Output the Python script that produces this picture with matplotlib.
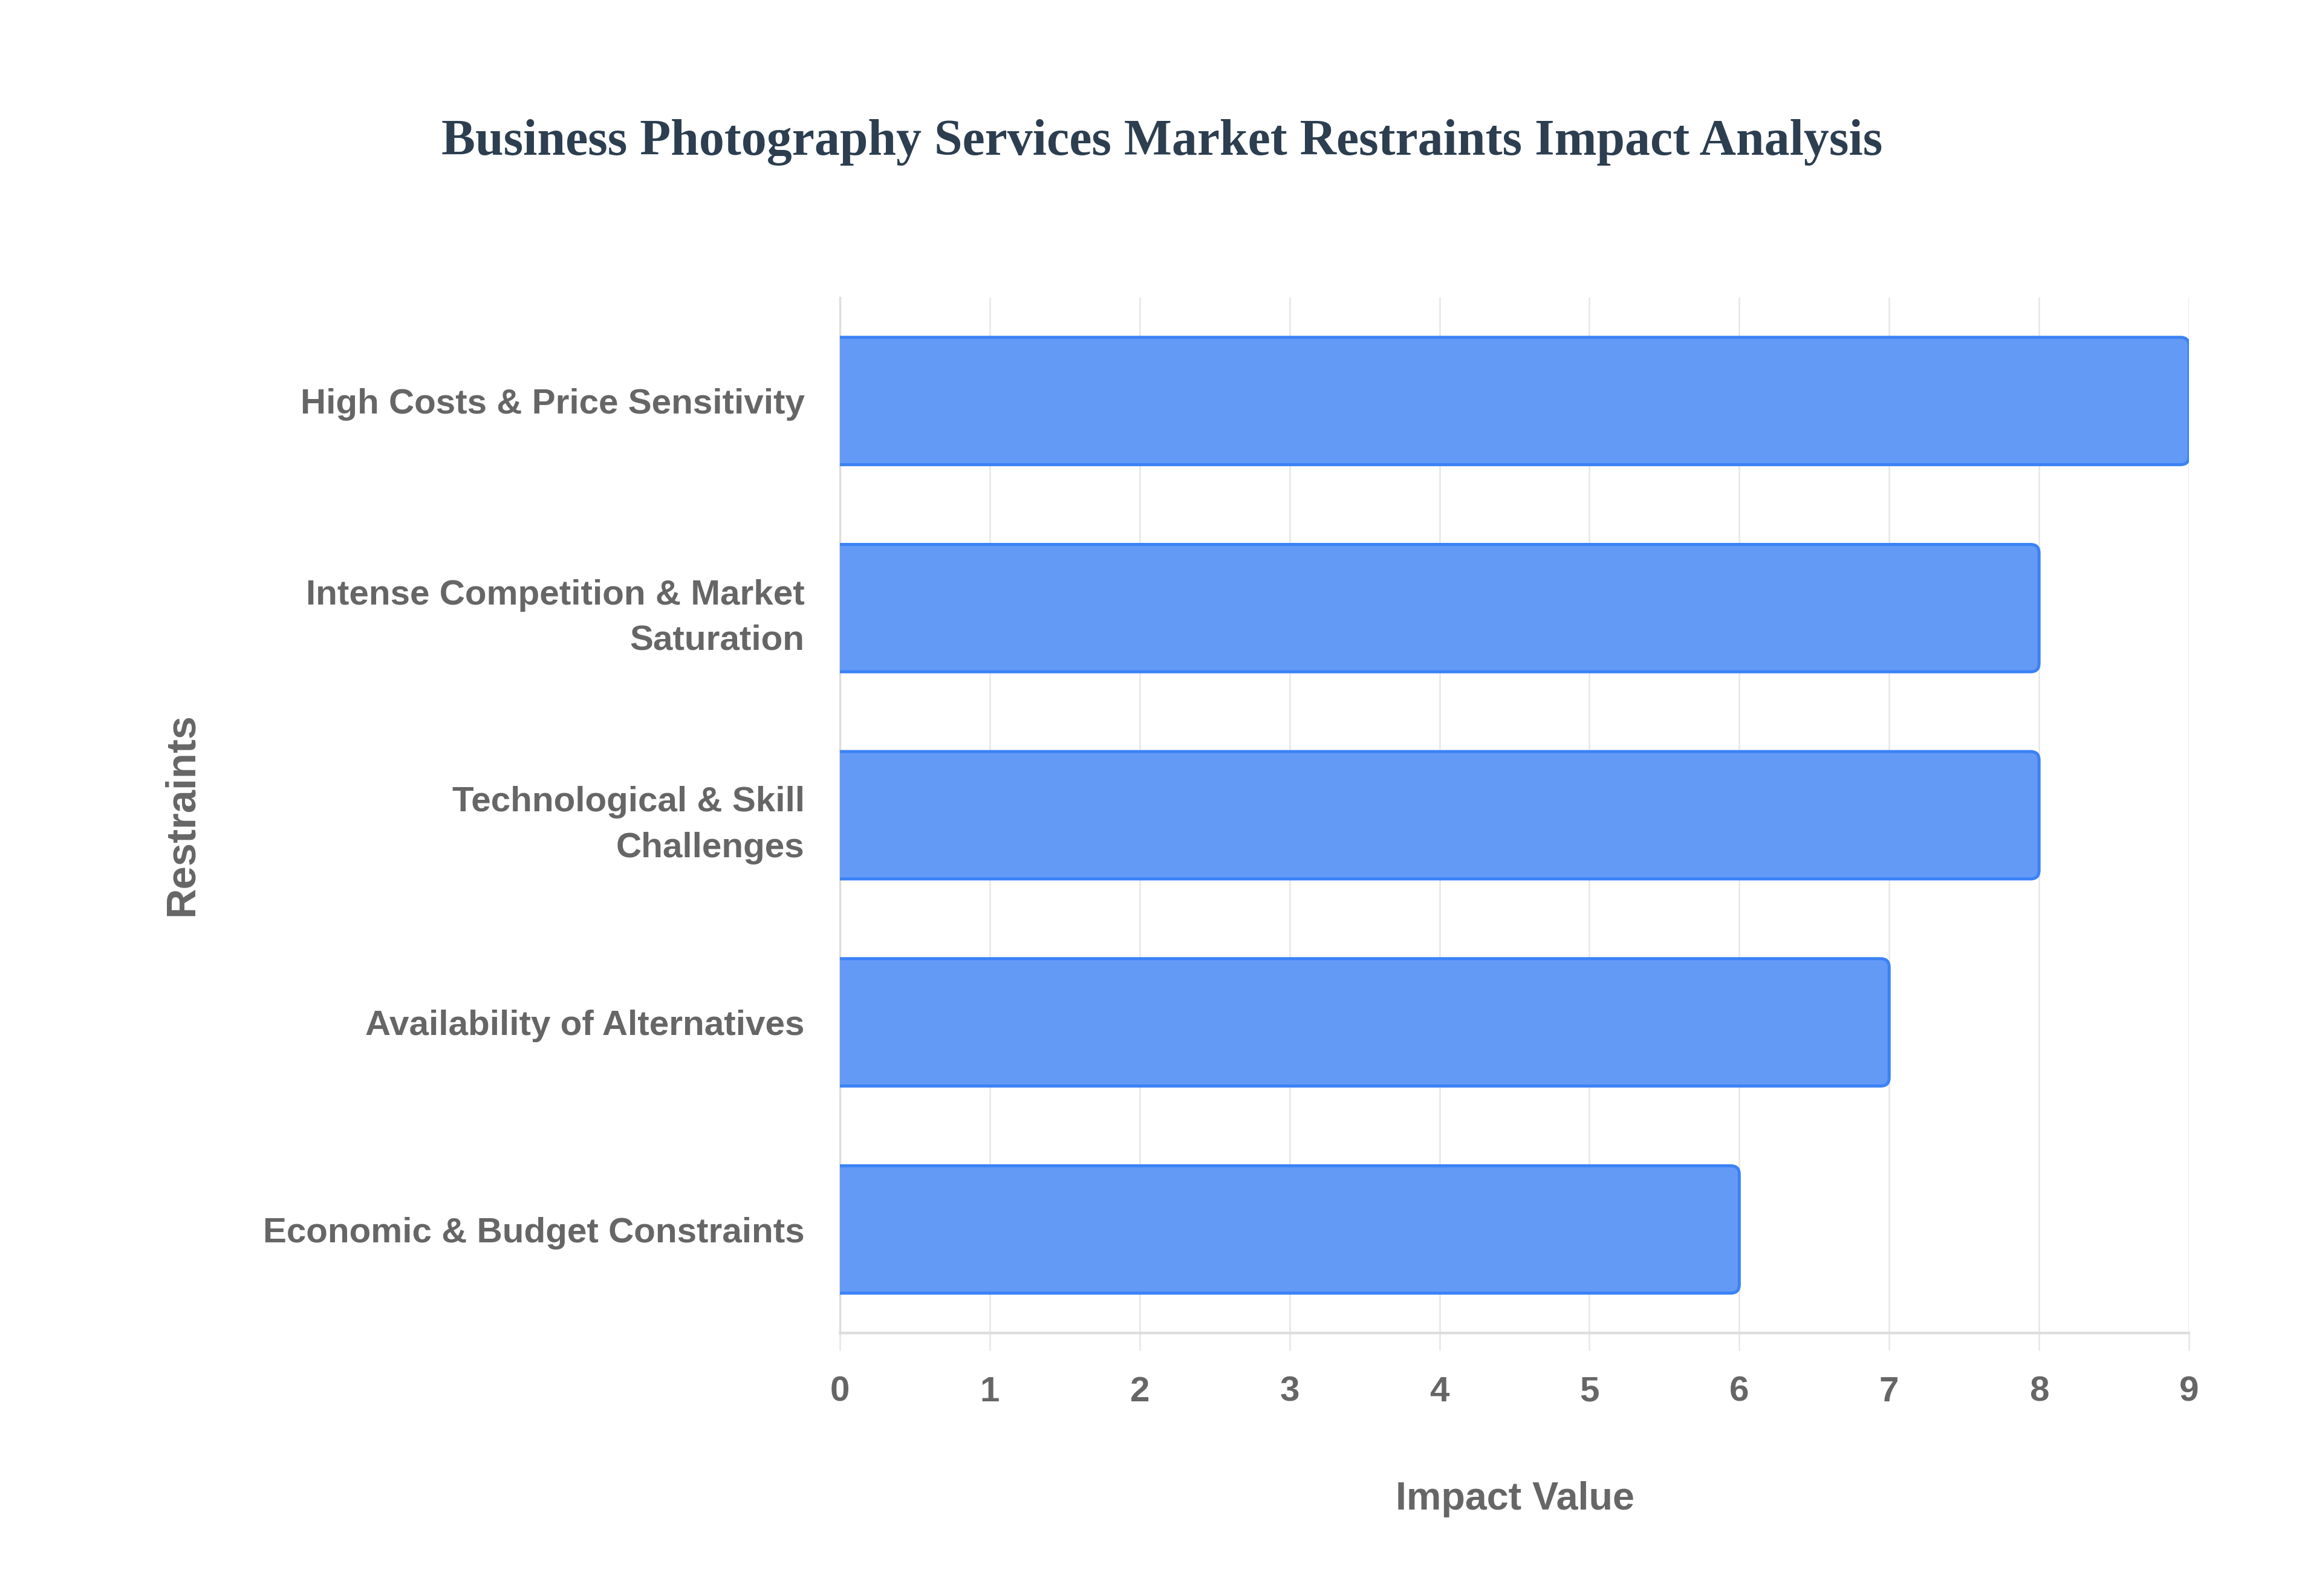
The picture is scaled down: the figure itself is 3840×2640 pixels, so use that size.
import matplotlib
matplotlib.use("Agg")
import matplotlib.pyplot as plt
from matplotlib.patches import FancyBboxPatch

# ---- data ----
categories = [
    "High Costs & Price Sensitivity",
    "Intense Competition & Market\nSaturation",
    "Technological & Skill\nChallenges",
    "Availability of Alternatives",
    "Economic & Budget Constraints",
]
impact_values = [9, 8, 8, 7, 6]
x_ticks = [0, 1, 2, 3, 4, 5, 6, 7, 8, 9]

title = "Business Photography Services Market Restraints Impact Analysis"
x_title = "Impact Value"
y_title = "Restraints"

# ---- style ----
SANS = ["Liberation Sans", "DejaVu Sans"]
SERIF = ["Liberation Serif", "DejaVu Serif"]
TXT = "#666666"
GRID = "#e6e6e6"
FILL = "#639AF6"
EDGE = "#3B82F6"

W, H, DPI = 12.8, 8.8, 300
fig = plt.figure(figsize=(W, H), dpi=DPI, facecolor="white")
left, right, bottom, top = 1389 / 3840, 3620 / 3840, 1 - 2205 / 2640, 1 - 492 / 2640
ax = fig.add_axes([left, bottom, right - left, top - bottom])

ypos = list(range(len(categories)))
ax.set_xlim(0, 9)
ax.set_ylim(len(categories) - 0.5, -0.5)

bars = ax.barh(ypos, impact_values, height=0.615, color=FILL)

# rounded right ends (Chart.js style) built from the bar geometry
ax_w_px = (right - left) * W * DPI
ax_h_px = (top - bottom) * H * DPI
x_per_px = 9 / ax_w_px
y_per_px = len(categories) / ax_h_px
aspect = y_per_px / x_per_px
r_px = 14
r = r_px * x_per_px
for b in bars:
    x0, y0 = b.get_x(), b.get_y()
    w, h = b.get_width(), b.get_height()
    b.set_visible(False)
    p = FancyBboxPatch((x0 - 3 * r, y0), w + 3 * r, h,
                       boxstyle=f"round,pad=0,rounding_size={r}",
                       mutation_aspect=aspect,
                       facecolor=FILL, edgecolor=EDGE, linewidth=1.2,
                       zorder=3)
    ax.add_patch(p)

# grid / spines
ax.set_xticks(x_ticks)
ax.grid(axis="x", color=GRID, linewidth=0.6, zorder=0)
ax.grid(axis="y", visible=False)
ax.set_axisbelow(True)
for s in ["top", "right"]:
    ax.spines[s].set_visible(False)
ax.spines["left"].set_color("#dddddd")
ax.spines["left"].set_linewidth(0.8)
ax.spines["bottom"].set_color("#dddddd")
ax.spines["bottom"].set_linewidth(1.0)

ax.tick_params(axis="x", length=7, width=0.6, color=GRID, pad=10,
               labelsize=14, labelcolor=TXT)
ax.tick_params(axis="y", length=0, pad=14, labelsize=14, labelcolor=TXT)
ax.set_yticks(ypos)
ax.set_yticklabels(categories, linespacing=1.5)
for lab in ax.get_xticklabels() + ax.get_yticklabels():
    lab.set_family(SANS)
    lab.set_fontweight("bold")

fig.text(2505 / 3840, 1 - 2480 / 2640, x_title, ha="center", va="center",
         fontsize=15.5, fontweight="bold", color=TXT, family=SANS)
fig.text(301 / 3840, 1 - 1347 / 2640, y_title, ha="center", va="center",
         rotation=90, fontsize=16.5, fontweight="bold", color=TXT, family=SANS)
fig.text(1922 / 3840, 1 - 236 / 2640, title, ha="center", va="center",
         fontsize=20.1, fontweight="bold", color="#2C3E50", family=SERIF)

fig.savefig("out.png", dpi=DPI, facecolor="white")
